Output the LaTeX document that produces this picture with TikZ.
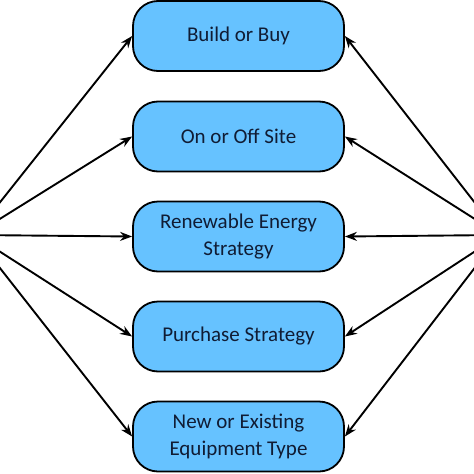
\documentclass[tikz,border=0pt]{standalone}
\usepackage{fontspec}
\setmainfont{Carlito}
\usetikzlibrary{arrows.meta}
\definecolor{boxblue}{RGB}{102,194,255}
\definecolor{textnavy}{RGB}{16,28,52}

\begin{document}
\begin{tikzpicture}[x=1pt,y=1pt,
  every node/.style={font=\fontsize{21}{27}\selectfont,text=textnavy},
  choicebox/.style={draw=black,line width=1.8pt,fill=boxblue,rounded corners=25pt,
    minimum width=211pt,minimum height=70pt,align=center,inner sep=0pt},
  pointer/.style={line width=1.9pt,-{Stealth[length=12pt,width=9pt]}}]
\useasboundingbox (0,0) rectangle (474,-474);
\clip (0,0) rectangle (474,-474);
\fill[white] (0,0) rectangle (474,-474);
\coordinate (left) at (-26,-235);
\coordinate (right) at (500,-235);
\node[choicebox] (build) at (238.5,-36) {Build or Buy};
\node[choicebox] (site) at (238.5,-136.5) {On or Off Site};
\node[choicebox] (renew) at (238.5,-236.5) {Renewable Energy\\Strategy};
\node[choicebox] (purchase) at (238.5,-336.5) {Purchase Strategy};
\node[choicebox] (equip) at (238.5,-436.5) {New or Existing\\Equipment Type};
\foreach \b in {build,site,renew,purchase,equip}{
  \draw[pointer] (left) -- (\b.west);
  \draw[pointer] (right) -- (\b.east);
}
\end{tikzpicture}
\end{document}
